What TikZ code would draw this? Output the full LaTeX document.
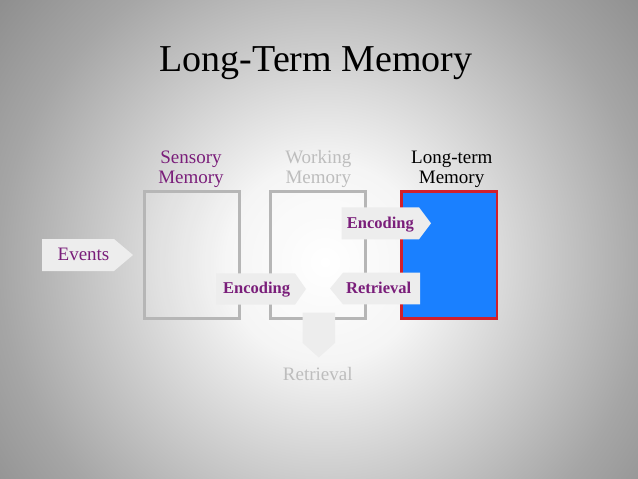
\documentclass[tikz,border=0pt]{standalone}
\usepackage{fontspec}
\setmainfont{Liberation Serif}
\definecolor{purp}{HTML}{7A1E7A}
\definecolor{boxgray}{HTML}{B6B6B6}
\definecolor{lblgray}{HTML}{BDBDBD}
\definecolor{ltmblue}{HTML}{1A80FF}
\definecolor{ltmred}{HTML}{D11F2B}
\definecolor{arrfill}{HTML}{EDEDED}
\pgfdeclareradialshading{bgshade}{\pgfpoint{0bp}{0bp}}{%
  color(0bp)=(white);
  color(5.8bp)=(white!96!black);
  color(12.1bp)=(white!81!black);
  color(18.9bp)=(white!65!black);
  color(24.2bp)=(white!56!black);
  color(25bp)=(white!55!black);
  color(50bp)=(white!55!black)}
\tikzset{
  membox/.style={line width=3pt, inner sep=0pt},
  memlabel/.style={anchor=base, font=\fontsize{19}{20}\selectfont, inner sep=0pt},
  arrlabel/.style={anchor=base, font=\fontsize{16.5}{18}\selectfont\bfseries, text=purp, inner sep=0pt},
  arrshape/.style={fill=arrfill},
}
\begin{document}
\begin{tikzpicture}[x=1pt,y=-1pt]
\useasboundingbox (0,0) rectangle (638,479);
\begin{scope}
\clip (0,0) rectangle (638,479);
\shade[shading=bgshade] (-105,-168) rectangle (755,692);
\end{scope}
\node[anchor=base, font=\fontsize{38}{40}\selectfont, inner sep=0pt] (title) at (316,71) {Long-Term Memory};
% box labels
\node[memlabel, text=purp] (s1) at (191,163.3) {Sensory};
\node[memlabel, text=purp] (s2) at (191,183.3) {Memory};
\node[memlabel, text=lblgray] (w1) at (318.3,163.3) {Working};
\node[memlabel, text=lblgray] (w2) at (318.3,183.3) {Memory};
\node[memlabel, text=black] (l1) at (451.8,163.3) {Long-term};
\node[memlabel, text=black] (l2) at (451.6,183.3) {Memory};
% boxes
\draw[membox, draw=boxgray, fill=white, fill opacity=0.12] (144.2,191.5) rectangle (239.2,318.5) node[midway, opacity=0] (sens) {};
\draw[membox, draw=boxgray, fill=white, fill opacity=0.18] (270.8,191.5) rectangle (365.8,318.5) node[midway, opacity=0] (work) {};
\draw[membox, draw=ltmred, fill=ltmblue, line width=2.6pt] (401.5,191.5) rectangle (496.8,318.5) node[midway, opacity=0] (ltm) {};
% arrows
\fill[arrshape] (42,239) -- (114,239) -- (133,255) -- (114,271) -- (42,271) -- cycle;
\node[memlabel, text=purp] (events) at (83.5,260.7) {Events};
\fill[arrshape] (216,273.3) -- (295,273.3) -- (306,289) -- (295,304.7) -- (216,304.7) -- cycle;
\node[arrlabel] (enc1) at (256.7,293.3) {Encoding};
\fill[arrshape] (341.5,207.3) -- (419,207.3) -- (431,223.3) -- (419,239.3) -- (341.5,239.3) -- cycle;
\node[arrlabel] (enc2) at (380.3,228.3) {Encoding};
\fill[arrshape] (330,288.5) -- (343,272.7) -- (420,272.7) -- (420,304.3) -- (343,304.3) -- cycle;
\node[arrlabel] (ret1) at (378.7,293.3) {Retrieval};
\fill[arrshape, fill=white!93!black] (302.7,312.7) -- (335,312.7) -- (335,343) -- (318.8,357.5) -- (302.7,343) -- cycle;
\node[memlabel, text=lblgray] (ret2) at (317.8,380.7) {Retrieval};
\end{tikzpicture}
\end{document}
